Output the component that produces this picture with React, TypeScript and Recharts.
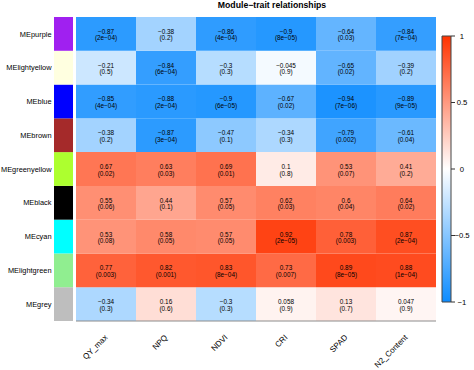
import { BarChart, Bar, XAxis, YAxis, Cell, LabelList } from "recharts";

const traits = ["QY_max", "NPQ", "NDVI", "CRI", "SPAD", "N2_Content"];
const modules = [
  "MEpurple",
  "MElightyellow",
  "MEblue",
  "MEbrown",
  "MEgreenyellow",
  "MEblack",
  "MEcyan",
  "MElightgreen",
  "MEgrey",
];
const moduleColors = [
  "#A020F0",
  "#FFFFE0",
  "#0000FF",
  "#A52A2A",
  "#ADFF2F",
  "#000000",
  "#00FFFF",
  "#90EE90",
  "#BEBEBE",
];

// correlation per module row, one value per trait
const corrValues = [
  [-0.87, -0.38, -0.86, -0.9, -0.64, -0.84],
  [-0.21, -0.84, -0.3, -0.045, -0.65, -0.39],
  [-0.85, -0.88, -0.9, -0.67, -0.94, -0.89],
  [-0.38, -0.87, -0.47, -0.34, -0.79, -0.61],
  [0.67, 0.63, 0.69, 0.1, 0.53, 0.41],
  [0.55, 0.44, 0.57, 0.62, 0.6, 0.64],
  [0.53, 0.58, 0.57, 0.92, 0.78, 0.87],
  [0.77, 0.82, 0.83, 0.73, 0.89, 0.88],
  [-0.34, 0.16, -0.3, 0.058, 0.13, 0.047],
];
const pValues = [
  ["2e-04", "0.2", "4e-04", "8e-05", "0.03", "7e-04"],
  ["0.5", "6e-04", "0.3", "0.9", "0.02", "0.2"],
  ["4e-04", "2e-04", "6e-05", "0.02", "7e-06", "9e-05"],
  ["0.2", "3e-04", "0.1", "0.3", "0.002", "0.04"],
  ["0.02", "0.03", "0.01", "0.8", "0.07", "0.2"],
  ["0.06", "0.1", "0.05", "0.03", "0.04", "0.02"],
  ["0.08", "0.05", "0.05", "2e-05", "0.003", "2e-04"],
  ["0.003", "0.001", "8e-04", "0.007", "8e-05", "1e-04"],
  ["0.3", "0.6", "0.3", "0.9", "0.7", "0.9"],
];
const legendTicks = [-1, -0.5, 0, 0.5, 1];

const FONT = "'Liberation Sans', Arial, Helvetica, sans-serif";
const BORDER = "#8c8c8c";
const BLUE_END = [13, 140, 255];
const RED_END = [255, 51, 0];

const minus = (s: string) => s.replace(/-/g, "\u2212");

function corrColor(v: number) {
  const end = v < 0 ? BLUE_END : RED_END;
  const t = Math.min(1, Math.abs(v));
  const c = end.map((e) => Math.round(255 + (e - 255) * t));
  return `rgb(${c[0]},${c[1]},${c[2]})`;
}

// one row per trait, one stacked unit per module (bottom = last module)
const heatData = traits.map((trait) => {
  const row: Record<string, any> = { trait };
  modules.forEach((_, i) => (row[`m${i}`] = 1));
  return row;
});
const stripData = [Object.fromEntries(modules.map((_, i) => [`m${i}`, 1]))];
const legendData = [{ name: "scale", v: [-1, 1] }];

const stackOrder = modules.map((_, i) => modules.length - 1 - i);

function XTick({ x, y, payload }: any) {
  const ax = x + 2;
  const ay = y + 9;
  return (
    <text
      x={ax}
      y={ay}
      textAnchor="end"
      transform={`rotate(-45 ${ax} ${ay})`}
      fontSize={8}
      fontFamily={FONT}
      fill="#000"
    >
      {payload.value}
    </text>
  );
}

function LegendTick({ x, y, payload }: any) {
  return (
    <text
      x={x + 5}
      y={y}
      dy={2.7}
      textAnchor="middle"
      fontSize={7.7}
      fontFamily={FONT}
      fill="#000"
    >
      {minus(String(payload.value))}
    </text>
  );
}

function cellLabel(rowIdx: number) {
  return (props: any) => {
    const { x, y, width, height, index } = props;
    const cx = x + width / 2;
    const cy = y + height / 2;
    return (
      <text textAnchor="middle" fontSize={6.4} fontFamily={FONT} fill="#000">
        <tspan x={cx} y={cy}>
          {minus(String(corrValues[rowIdx][index]))}
        </tspan>
        <tspan x={cx} y={cy + 6.5}>
          ({minus(pValues[rowIdx][index])})
        </tspan>
      </text>
    );
  };
}

export default function App() {
  return (
    <div
      style={{
        position: "absolute",
        left: 0,
        top: 0,
        width: 474,
        height: 370,
        background: "#fff",
        fontFamily: FONT,
        overflow: "hidden",
      }}
    >
      <div
        style={{
          position: "absolute",
          left: 272,
          top: 0,
          transform: "translateX(-50%)",
          fontSize: 8.7,
          fontWeight: "bold",
          lineHeight: "11px",
          whiteSpace: "nowrap",
        }}
      >
        Module{"\u2212"}trait relationships
      </div>

      {/* module colour strip with row labels */}
      <div style={{ position: "absolute", left: 0, top: 0 }}>
        <BarChart
          width={74}
          height={370}
          data={stripData}
          margin={{ top: 17, right: 1, bottom: 49, left: 0 }}
          barCategoryGap={0}
        >
          <XAxis hide />
          <YAxis
            type="number"
            domain={[0, 9]}
            ticks={[0.5, 1.5, 2.5, 3.5, 4.5, 5.5, 6.5, 7.5, 8.5]}
            tickFormatter={(v: number) => modules[modules.length - 1 - Math.floor(v)]}
            width={54}
            axisLine={false}
            tickLine={false}
            tickSize={0}
            tickMargin={2.5}
            tick={{ fontSize: 7.4, fill: "#000", fontFamily: FONT }}
            interval={0}
          />
          {stackOrder.map((i) => (
            <Bar
              key={i}
              dataKey={`m${i}`}
              stackId="s"
              fill={moduleColors[i]}
              isAnimationActive={false}
            />
          ))}
        </BarChart>
      </div>

      {/* heatmap */}
      <div style={{ position: "absolute", left: 0, top: 0 }}>
        <BarChart
          width={474}
          height={370}
          data={heatData}
          margin={{ top: 17, right: 38, bottom: 9, left: 76 }}
          barCategoryGap={0}
          barGap={0}
        >
          <XAxis
            dataKey="trait"
            height={40}
            interval={0}
            tickLine={false}
            axisLine={{ stroke: BORDER }}
            tick={<XTick />}
          />
          <XAxis xAxisId="top" dataKey="trait" orientation="top" height={0} tick={false} tickLine={false} axisLine={{ stroke: BORDER }} />
          <YAxis type="number" domain={[0, 9]} width={0} tick={false} tickLine={false} axisLine={{ stroke: BORDER }} />
          <YAxis yAxisId="right" orientation="right" type="number" domain={[0, 9]} width={0} tick={false} tickLine={false} axisLine={{ stroke: BORDER }} />
          {stackOrder.map((i) => (
            <Bar key={i} dataKey={`m${i}`} stackId="h" isAnimationActive={false}>
              {traits.map((t, j) => (
                <Cell key={t} fill={corrColor(corrValues[i][j])} />
              ))}
              <LabelList dataKey={`m${i}`} content={cellLabel(i)} />
            </Bar>
          ))}
        </BarChart>
      </div>

      {/* colour key */}
      <div style={{ position: "absolute", left: 0, top: 0 }}>
        <BarChart
          width={474}
          height={370}
          data={legendData}
          margin={{ top: 36, right: 0, bottom: 68, left: 442 }}
          barCategoryGap={0}
        >
          <defs>
            <linearGradient id="keyGrad" x1="0" y1="0" x2="0" y2="1">
              <stop offset="0%" stopColor="rgb(255,51,0)" />
              <stop offset="50%" stopColor="#ffffff" />
              <stop offset="100%" stopColor="rgb(13,140,255)" />
            </linearGradient>
          </defs>
          <XAxis dataKey="name" hide />
          <YAxis
            orientation="right"
            type="number"
            domain={[-1, 1]}
            ticks={legendTicks}
            width={23}
            axisLine={false}
            tickLine={{ stroke: "#333" }}
            tickSize={4}
            tickMargin={2}
            tick={<LegendTick />}
          />
          <Bar dataKey="v" fill="url(#keyGrad)" stroke="#444" strokeWidth={1} isAnimationActive={false} />
        </BarChart>
      </div>
    </div>
  );
}
